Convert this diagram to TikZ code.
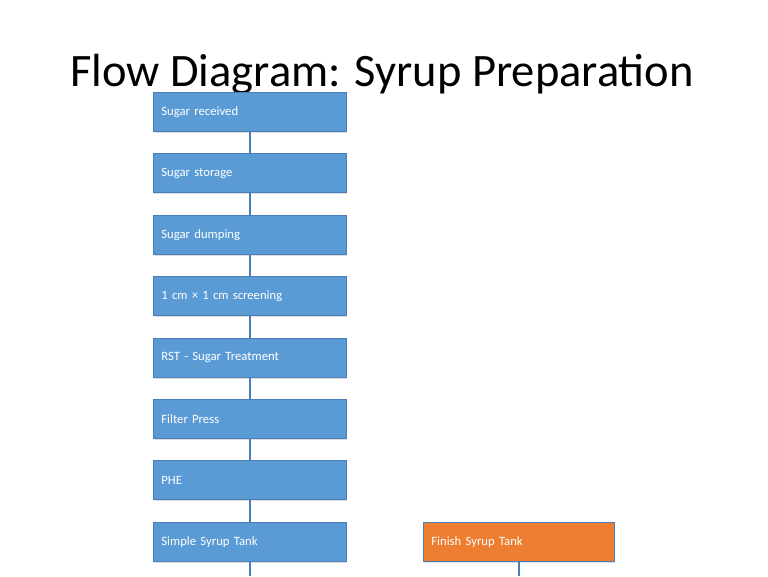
\documentclass[tikz,border=0pt]{standalone}
\usepackage{fontspec}
\setmainfont{Carlito}
\usetikzlibrary{positioning,shadows}
\definecolor{boxblue}{HTML}{5B9BD5}
\definecolor{edgeblue}{HTML}{4A7EBB}
\definecolor{boxorange}{HTML}{ED7D31}
\tikzset{stepbox/.style={rectangle, draw=edgeblue, line width=0.8pt, fill=boxblue,
    text=white, minimum width=193pt, minimum height=39pt, text width=177pt,
    inner xsep=8pt, align=left, font=\fontsize{12.7}{14}\selectfont,
    drop shadow={shadow xshift=1pt, shadow yshift=-1.5pt, opacity=0.25}},
  finishbox/.style={stepbox, fill=boxorange, minimum width=191pt, text width=175pt},
  link/.style={draw=edgeblue, line width=1.8pt}}

\begin{document}
\begin{tikzpicture}[node distance=21.6pt]
        \useasboundingbox (0,0) rectangle (768pt,-576pt);
        % Title
        \node (title) at (382pt,-74pt) {\fontsize{46.5}{52}\selectfont Flow Diagram: Syrup Preparation};
        % Nodes
        \node[stepbox, anchor=north west] (received) at (153pt,-92pt) {Sugar received};
        \node[stepbox] [below = of received] (storage) {Sugar storage};
        \node[stepbox] [below = of storage] (dumping) {Sugar dumping};
        \node[stepbox] [below = of dumping] (screening) {1 cm × 1 cm screening};
        \node[stepbox] [below = of screening] (rst) {RST - Sugar Treatment};
        \node[stepbox] [below = of rst] (filter) {Filter Press};
        \node[stepbox] [below = of filter] (phe) {PHE};
        \node[stepbox] [below = of phe] (simple) {Simple Syrup Tank};
        \node[finishbox, anchor=north west] (finish) at (423pt,-522pt) {Finish Syrup Tank};
        \coordinate (simpleout) at (simple.south |- 0,-576pt);
        \coordinate (finishout) at (finish.south |- 0,-576pt);
        % Paths
        \path[link]
        (received) -- (storage)
        (storage) -- (dumping)
        (dumping) -- (screening)
        (screening) -- (rst)
        (rst) -- (filter)
        (filter) -- (phe)
        (phe) -- (simple)
        (simple) -- (simpleout)
        (finish) -- (finishout);
\end{tikzpicture}
\end{document}
